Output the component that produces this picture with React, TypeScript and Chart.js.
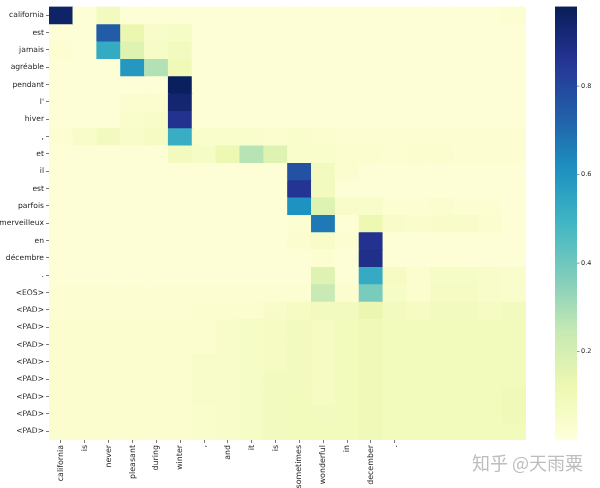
import React, { useEffect, useRef } from "react";
import { Chart, registerables } from "chart.js";

Chart.register(...registerables);

const rowLabels = [
  "california", "est", "jamais", "agréable", "pendant", "l'", "hiver", ",", "et", "il", "est",
  "parfois", "merveilleux", "en", "décembre", ".", "<EOS>",
  "<PAD>", "<PAD>", "<PAD>", "<PAD>", "<PAD>", "<PAD>", "<PAD>", "<PAD>",
];
const colLabels = [
  "california", "is", "never", "pleasant", "during", "winter", ",", "and", "it", "is",
  "sometimes", "wonderful", "in", "december", ".", "", "", "", "", "",
];
const labeledCols = 15;

// attention weights, one row per output token, one column per input token
const r00 = [0.95, 0.01, 0.08, 0.01, 0.01, 0.01, 0.01, 0.01, 0.01, 0.01, 0.01, 0.01, 0.01, 0.01, 0.01, 0.01, 0.01, 0.01, 0.01, 0.02];
const r01 = [0.01, 0.01, 0.74, 0.13, 0.05, 0.06, 0.01, 0.01, 0.01, 0.01, 0.01, 0.01, 0.01, 0.01, 0.01, 0.01, 0.01, 0.01, 0.01, 0.01];
const r02 = [0.02, 0.01, 0.53, 0.17, 0.06, 0.08, 0.01, 0.01, 0.01, 0.01, 0.01, 0.01, 0.01, 0.01, 0.01, 0.01, 0.01, 0.01, 0.01, 0.01];
const r03 = [0.01, 0.01, 0.01, 0.59, 0.28, 0.1, 0.01, 0.01, 0.01, 0.01, 0.01, 0.01, 0.01, 0.01, 0.01, 0.01, 0.01, 0.01, 0.01, 0.01];
const r04 = [0.01, 0.01, 0.01, 0.01, 0.01, 0.97, 0.01, 0.01, 0.01, 0.01, 0.01, 0.01, 0.01, 0.01, 0.01, 0.01, 0.01, 0.01, 0.01, 0.01];
const r05 = [0.01, 0.01, 0.01, 0.03, 0.03, 0.93, 0.01, 0.01, 0.01, 0.01, 0.01, 0.01, 0.01, 0.01, 0.01, 0.01, 0.01, 0.01, 0.01, 0.01];
const r06 = [0.01, 0.01, 0.01, 0.04, 0.05, 0.87, 0.01, 0.01, 0.01, 0.01, 0.01, 0.01, 0.01, 0.01, 0.01, 0.01, 0.01, 0.01, 0.01, 0.01];
const r07 = [0.02, 0.05, 0.08, 0.05, 0.07, 0.52, 0.04, 0.04, 0.04, 0.03, 0.04, 0.03, 0.02, 0.02, 0.02, 0.02, 0.02, 0.02, 0.02, 0.02];
const r08 = [0.01, 0.01, 0.01, 0.01, 0.01, 0.08, 0.06, 0.12, 0.27, 0.17, 0.04, 0.04, 0.03, 0.03, 0.02, 0.03, 0.03, 0.02, 0.02, 0.02];
const r09 = [0.01, 0.01, 0.01, 0.01, 0.01, 0.01, 0.01, 0.01, 0.01, 0.01, 0.77, 0.08, 0.03, 0.01, 0.01, 0.01, 0.01, 0.01, 0.01, 0.01];
const r10 = [0.01, 0.01, 0.01, 0.01, 0.01, 0.01, 0.01, 0.01, 0.01, 0.01, 0.86, 0.08, 0.01, 0.01, 0.01, 0.01, 0.01, 0.01, 0.01, 0.01];
const r11 = [0.01, 0.01, 0.01, 0.01, 0.01, 0.01, 0.01, 0.01, 0.01, 0.01, 0.61, 0.17, 0.05, 0.05, 0.02, 0.02, 0.03, 0.02, 0.02, 0.01];
const r12 = [0.01, 0.01, 0.01, 0.01, 0.01, 0.01, 0.01, 0.01, 0.01, 0.01, 0.02, 0.67, 0.01, 0.12, 0.05, 0.04, 0.05, 0.05, 0.03, 0.01];
const r13 = [0.01, 0.01, 0.01, 0.01, 0.01, 0.01, 0.01, 0.01, 0.01, 0.01, 0.03, 0.05, 0.02, 0.87, 0.01, 0.01, 0.01, 0.01, 0.01, 0.01];
const r14 = [0.01, 0.01, 0.01, 0.01, 0.01, 0.01, 0.01, 0.01, 0.01, 0.01, 0.01, 0.02, 0.01, 0.88, 0.01, 0.01, 0.01, 0.01, 0.01, 0.01];
const r15 = [0.01, 0.01, 0.01, 0.01, 0.01, 0.01, 0.01, 0.01, 0.01, 0.01, 0.01, 0.17, 0.01, 0.53, 0.07, 0.03, 0.06, 0.06, 0.05, 0.04];
const r16 = [0.02, 0.02, 0.02, 0.02, 0.02, 0.02, 0.02, 0.02, 0.02, 0.02, 0.02, 0.24, 0.03, 0.38, 0.06, 0.03, 0.07, 0.07, 0.05, 0.04];
const r17 = [0.02, 0.02, 0.02, 0.02, 0.02, 0.02, 0.03, 0.03, 0.03, 0.05, 0.07, 0.08, 0.08, 0.13, 0.08, 0.07, 0.08, 0.08, 0.07, 0.08];
const r18 = [0.03, 0.03, 0.03, 0.03, 0.03, 0.03, 0.03, 0.05, 0.06, 0.07, 0.08, 0.07, 0.09, 0.1, 0.09, 0.09, 0.09, 0.09, 0.09, 0.09];
const r19 = [0.03, 0.03, 0.03, 0.03, 0.03, 0.03, 0.03, 0.05, 0.06, 0.07, 0.08, 0.07, 0.09, 0.1, 0.09, 0.09, 0.09, 0.09, 0.09, 0.09];
const r20 = [0.03, 0.03, 0.03, 0.03, 0.03, 0.03, 0.05, 0.05, 0.06, 0.07, 0.08, 0.07, 0.09, 0.1, 0.09, 0.09, 0.09, 0.09, 0.09, 0.09];
const r21 = [0.03, 0.03, 0.03, 0.03, 0.03, 0.03, 0.05, 0.05, 0.06, 0.08, 0.08, 0.07, 0.09, 0.1, 0.09, 0.09, 0.09, 0.09, 0.09, 0.09];
const r22 = [0.03, 0.03, 0.03, 0.03, 0.03, 0.03, 0.05, 0.05, 0.06, 0.08, 0.09, 0.07, 0.09, 0.1, 0.09, 0.09, 0.09, 0.09, 0.09, 0.1];
const r23 = [0.03, 0.03, 0.03, 0.03, 0.03, 0.03, 0.04, 0.05, 0.06, 0.08, 0.09, 0.08, 0.09, 0.1, 0.09, 0.09, 0.09, 0.09, 0.09, 0.1];
const r24 = [0.03, 0.03, 0.03, 0.03, 0.03, 0.03, 0.04, 0.05, 0.06, 0.08, 0.09, 0.09, 0.09, 0.1, 0.09, 0.09, 0.09, 0.09, 0.09, 0.09];
const weights = [r00, r01, r02, r03, r04, r05, r06, r07, r08, r09, r10, r11, r12, r13, r14, r15, r16, r17, r18, r19, r20, r21, r22, r23, r24];

const cbMin = 0;
const cbMax = 0.98;
const cbTicks = [0.2, 0.4, 0.6, 0.8];

const YLGNBU = [
  [255, 255, 217], [237, 248, 177], [199, 233, 180], [127, 205, 187], [65, 182, 196],
  [29, 145, 192], [34, 94, 168], [37, 52, 148], [8, 29, 88],
];

function cmap(v: number): string {
  let t = (v - cbMin) / (cbMax - cbMin);
  t = Math.max(0, Math.min(1, t));
  const p = t * (YLGNBU.length - 1);
  const i = Math.min(Math.floor(p), YLGNBU.length - 2);
  const f = p - i;
  const a = YLGNBU[i], b = YLGNBU[i + 1];
  const c = a.map((x, k) => Math.round(x + (b[k] - x) * f));
  return `rgb(${c[0]},${c[1]},${c[2]})`;
}

const colorbarPlugin = {
  id: "colorbar",
  afterDraw(chart: any) {
    const { ctx, chartArea } = chart;
    const x0 = chartArea.right + 29;
    const w = 22;
    const top = chartArea.top;
    const bottom = chartArea.bottom;
    const g = ctx.createLinearGradient(0, bottom, 0, top);
    YLGNBU.forEach((c, i) => g.addColorStop(i / (YLGNBU.length - 1), `rgb(${c[0]},${c[1]},${c[2]})`));
    ctx.save();
    ctx.fillStyle = g;
    ctx.fillRect(x0, top, w, bottom - top);
    ctx.strokeStyle = "#444";
    ctx.lineWidth = 0.6;
    ctx.fillStyle = "#262626";
    ctx.font = "6.5px 'DejaVu Sans'";
    ctx.textBaseline = "middle";
    ctx.textAlign = "left";
    cbTicks.forEach((v) => {
      const y = bottom - ((v - cbMin) / (cbMax - cbMin)) * (bottom - top);
      ctx.beginPath();
      ctx.moveTo(x0 + w, y);
      ctx.lineTo(x0 + w + 2.5, y);
      ctx.stroke();
      ctx.fillText(String(v), x0 + w + 4, y);
    });
    ctx.restore();
  },
};

export default function App() {
  const ref = useRef<HTMLCanvasElement>(null);
  useEffect(() => {
    document.body.style.margin = "0";
    const canvas = ref.current!;
    const datasets = weights.map((row, r) => ({
      label: rowLabels[r],
      data: row.map(() => 1),
      backgroundColor: row.map((v) => cmap(v)),
      borderWidth: 0,
      barPercentage: 1,
      categoryPercentage: 1,
    }));
    const chart = new Chart(canvas, {
      type: "bar",
      data: { labels: colLabels, datasets },
      options: {
        responsive: false,
        animation: false,
        layout: { padding: { left: 0, top: 3, right: 74, bottom: 0 } },
        plugins: { legend: { display: false }, tooltip: { enabled: false } },
        scales: {
          x: {
            stacked: true,
            grid: {
              offset: false,
              drawOnChartArea: false,
              drawTicks: true,
              tickLength: 3,
              lineWidth: 0.8,
              color: (c: any) => (c.index < labeledCols ? "#555" : "rgba(0,0,0,0)"),
            },
            border: { display: false },
            ticks: {
              autoSkip: false,
              minRotation: 90,
              maxRotation: 90,
              padding: 2,
              color: "#262626",
              font: { family: "'DejaVu Sans'", size: 7.9 },
            },
            afterFit: (s: any) => { s.height = 48; },
          },
          y: {
            stacked: true,
            reverse: true,
            min: 0,
            max: rowLabels.length,
            grid: {
              drawOnChartArea: false,
              drawTicks: true,
              tickLength: 3,
              lineWidth: 0.8,
              color: "#555",
            },
            border: { display: false },
            afterBuildTicks: (s: any) => {
              s.ticks = rowLabels.map((_, i) => ({ value: i + 0.5 }));
            },
            ticks: {
              autoSkip: false,
              padding: 2,
              color: "#262626",
              font: { family: "'DejaVu Sans'", size: 7.6 },
              callback: (_v: any, i: number) => rowLabels[i],
            },
            afterFit: (s: any) => { s.width = 49; },
          },
        },
      },
      plugins: [colorbarPlugin],
    });
    return () => chart.destroy();
  }, []);
  return (
    <div style={{ position: "relative", width: 600, height: 488, background: "#fff" }}>
      <canvas ref={ref} width={600} height={488} style={{ display: "block" }} />
      <div
        style={{
          position: "absolute",
          left: 472,
          top: 450,
          fontFamily: "'Noto Sans CJK SC'",
          fontSize: 18,
          color: "#bdbdbd",
          whiteSpace: "nowrap",
          lineHeight: "24px",
        }}
      >
        知乎 @天雨粟
      </div>
    </div>
  );
}
